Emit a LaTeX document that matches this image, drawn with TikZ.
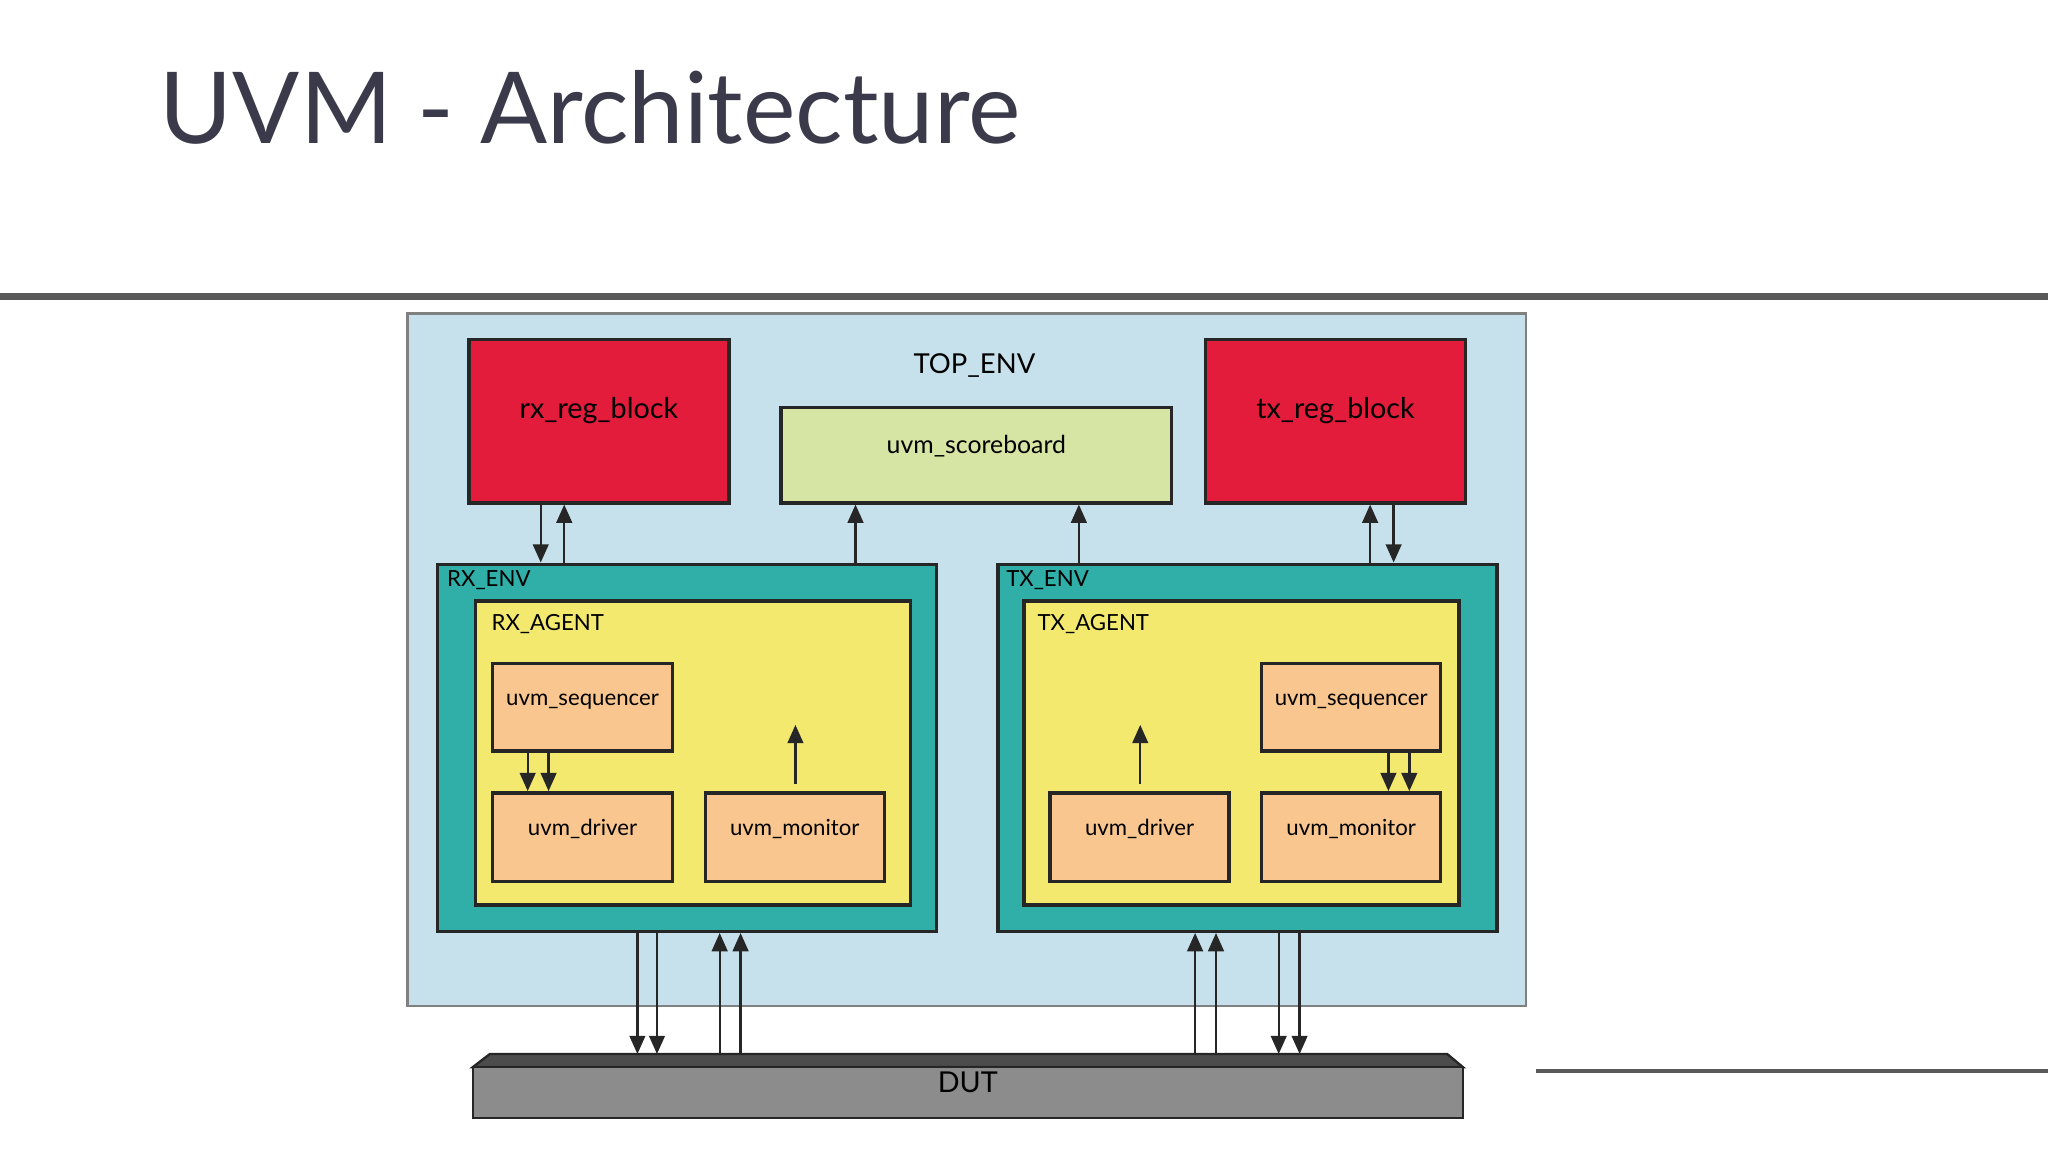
\documentclass[tikz,border=0pt]{standalone}
\usepackage{fontspec}
\setmainfont{Lato}
\usetikzlibrary{fit,arrows.meta}
\definecolor{topenv}{HTML}{C6E1EB}
\definecolor{regred}{HTML}{E21C3A}
\definecolor{sbgreen}{HTML}{D6E4A4}
\definecolor{envteal}{HTML}{2FAFA8}
\definecolor{agyel}{HTML}{F2E96E}
\definecolor{comp}{HTML}{F9C68F}
\definecolor{titlec}{HTML}{3A3A4A}
\tikzset{
  box/.style={draw=black!85, line width=1.3pt, inner sep=0pt, font=\fontsize{11}{13}\selectfont},
  small/.style={font=\fontsize{8.5}{10}\selectfont, anchor=west, inner sep=0pt},
  compb/.style={box, fill=comp, font=\fontsize{8.5}{10}\selectfont},
  arr/.style={line width=0.9pt, draw=black!85, -{Triangle[width=6pt,length=7pt]}},
  ln/.style={line width=0.9pt, draw=black!85}
}
\begin{document}
\begin{tikzpicture}[x=0.5pt,y=-0.5pt]
\useasboundingbox (0,0) rectangle (1568,882);
\node[anchor=base west, text=titlec, inner sep=0pt, font=\fontsize{38}{44}\selectfont] (title) at (122,110) {UVM - Architecture};
\coordinate (l1a) at (0,227); \coordinate (l1b) at (1568,227);
\draw[line width=3pt, draw=black!65] (l1a) -- (l1b);
\coordinate (l2a) at (1176,820); \coordinate (l2b) at (1568,820);
\draw[line width=1.5pt, draw=black!65] (l2a) -- (l2b);

\node[fill=topenv, draw=black!50, line width=0.8pt, inner sep=0pt, fit={(312,240)(1168,770)}] (top) {};
\node[font=\fontsize{10.5}{12}\selectfont] (toplab) at (746,280) {TOP\_ENV};
\node[box, fill=regred, fit={(359,260)(558,385)}] (rxreg) {rx\_reg\_block};
\node[box, fill=regred, fit={(923,260)(1122,385)}] (txreg) {tx\_reg\_block};
\node[box, fill=sbgreen, fit={(598,312)(897,385)}, font=\fontsize{9.5}{11}\selectfont] (sb) {uvm\_scoreboard};

\node[box, fill=envteal, fit={(335,432)(717,713)}] (rxenv) {};
\node[small] (rxenvl) at (342,444) {RX\_ENV};
\node[box, fill=agyel, fit={(364,460)(697,693)}] (rxag) {};
\node[small] (rxagl) at (376,478) {RX\_AGENT};
\node[compb, fit={(377,508)(515,575)}] (rxseq) {uvm\_sequencer};
\node[compb, fit={(377,607)(515,675)}] (rxdrv) {uvm\_driver};
\node[compb, fit={(540,607)(677,675)}] (rxmon) {uvm\_monitor};

\node[box, fill=envteal, fit={(764,432)(1146,713)}] (txenv) {};
\node[small] (txenvl) at (770,444) {TX\_ENV};
\node[box, fill=agyel, fit={(784,460)(1117,693)}] (txag) {};
\node[small] (txagl) at (794,478) {TX\_AGENT};
\node[compb, fit={(966,508)(1103,575)}] (txseq) {uvm\_sequencer};
\node[compb, fit={(804,607)(941,675)}] (txdrv) {uvm\_driver};
\node[compb, fit={(966,607)(1103,675)}] (txmon) {uvm\_monitor};

% DUT
\coordinate (dtl) at (375,807); \coordinate (dtr) at (1108,807);
\coordinate (dfl) at (362,817); \coordinate (dfr) at (1120,817);
\fill[black!70, draw=black!85, line width=0.9pt] (dfl) -- (dtl) -- (dtr) -- (dfr) -- cycle;
\node[draw=black!85, line width=1pt, fill=black!45, inner sep=0pt, fit={(362,817)(1120,856)}, font=\fontsize{11}{13}\selectfont] (dut) {DUT};

% arrows
\draw[arr] (414,0 |- rxreg.south) -- (414,0 |- rxenv.north);
\draw[arr] (432,0 |- rxenv.north) -- (432,0 |- rxreg.south);
\draw[arr] (655,0 |- rxenv.north) -- (655,0 |- sb.south);
\draw[arr] (826,0 |- txenv.north) -- (826,0 |- sb.south);
\draw[arr] (1049,0 |- txenv.north) -- (1049,0 |- txreg.south);
\draw[arr] (1067,0 |- txreg.south) -- (1067,0 |- txenv.north);
\draw[arr] (404,0 |- rxseq.south) -- (404,0 |- rxdrv.north);
\draw[arr] (420,0 |- rxseq.south) -- (420,0 |- rxdrv.north);
\draw[arr] (1063,0 |- txseq.south) -- (1063,0 |- txmon.north);
\draw[arr] (1079,0 |- txseq.south) -- (1079,0 |- txmon.north);
\coordinate (rma) at (609,600); \coordinate (rmb) at (609,555);
\draw[arr] (rma) -- (rmb);
\coordinate (tma) at (873,600); \coordinate (tmb) at (873,555);
\draw[arr] (tma) -- (tmb);
\draw[arr] (488,0 |- rxenv.south) -- (488,0 |- dtl);
\draw[arr] (503,0 |- rxenv.south) -- (503,0 |- dtl);
\draw[arr] (551,0 |- dtl) -- (551,0 |- rxenv.south);
\draw[arr] (567,0 |- dtl) -- (567,0 |- rxenv.south);
\draw[arr] (915,0 |- dtl) -- (915,0 |- txenv.south);
\draw[arr] (931,0 |- dtl) -- (931,0 |- txenv.south);
\draw[arr] (979,0 |- txenv.south) -- (979,0 |- dtl);
\draw[arr] (995,0 |- txenv.south) -- (995,0 |- dtl);
\end{tikzpicture}
\end{document}
